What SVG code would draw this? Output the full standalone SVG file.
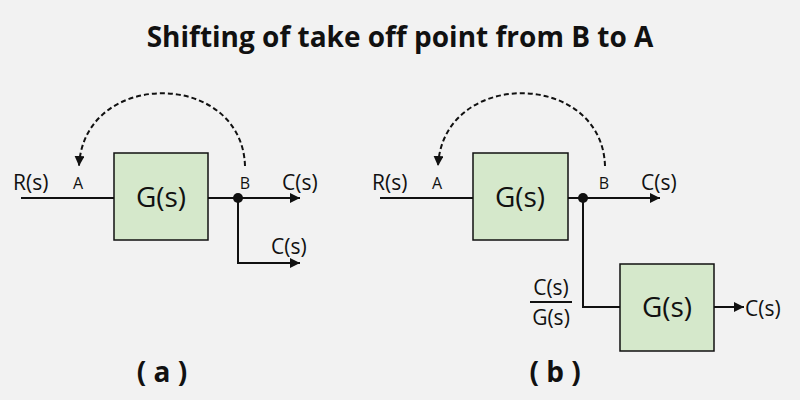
<svg xmlns="http://www.w3.org/2000/svg" width="800" height="400" viewBox="0 0 800 400">
<defs>
<style>
.t{font-family:"Open Sans","Noto Sans","Liberation Sans",sans-serif;fill:#111}
.lbl{font-size:21px}
.sm{font-size:16px;text-anchor:middle}
.g{font-size:28px;text-anchor:middle}
.ttl{font-size:28px;font-weight:bold;text-anchor:middle}
.cap{font-size:28px;font-weight:bold;text-anchor:middle}
.box{fill:#d5e8cb;stroke:#111;stroke-width:1.5}
.ln{fill:none;stroke:#111;stroke-width:2}
.dash{fill:none;stroke:#111;stroke-width:2;stroke-dasharray:5 3}
</style>
<marker id="ah" viewBox="0 0 10 10" refX="10" refY="5" markerWidth="10" markerHeight="10" markerUnits="userSpaceOnUse" orient="auto">
<path d="M0,0 L10,5 L0,10 z" fill="#111"/>
</marker>
</defs>
<rect width="800" height="400" fill="#f2f2f2"/>
<text class="t ttl" x="400" y="47">Shifting of take off point from B to A</text>

<g id="connectors">
<path class="ln" d="M21,198 H114"/>
<path class="ln" d="M208,198 H300" marker-end="url(#ah)"/>
<path class="ln" d="M238,198 V263 H300" marker-end="url(#ah)"/>
<path class="dash" d="M245,166 C242,70 84,68 79,166" marker-end="url(#ah)"/>
<path class="ln" d="M380,198 H473"/>
<path class="ln" d="M568,198 H660" marker-end="url(#ah)"/>
<path class="ln" d="M583,198 V307 H620"/>
<path class="ln" d="M714,307 H744" marker-end="url(#ah)"/>
<path class="dash" d="M605,166 C602,70 443,68 438,166" marker-end="url(#ah)"/>
<path class="ln" d="M530,302 H572" stroke-width="1.5"/>
</g>

<g id="dotB1"><circle cx="238" cy="198" r="5" fill="#111"/></g>
<g id="dotB2"><circle cx="583" cy="198" r="5" fill="#111"/></g>

<g id="G1">
<rect class="box" x="114" y="153" width="94" height="87"/>
<text class="t g" x="161" y="207">G(s)</text>
</g>
<g id="G2">
<rect class="box" x="473" y="153" width="95" height="87"/>
<text class="t g" x="520" y="207">G(s)</text>
</g>
<g id="G3">
<rect class="box" x="620" y="264" width="94" height="87"/>
<text class="t g" x="667" y="317">G(s)</text>
</g>

<g id="labels">
<text class="t lbl" x="13" y="190">R(s)</text>
<text class="t sm" x="78" y="189">A</text>
<text class="t sm" x="245" y="189">B</text>
<text class="t lbl" x="282" y="190">C(s)</text>
<text class="t lbl" x="271" y="254">C(s)</text>
<text class="t lbl" x="372" y="190">R(s)</text>
<text class="t sm" x="437" y="189">A</text>
<text class="t sm" x="604" y="189">B</text>
<text class="t lbl" x="641" y="190">C(s)</text>
<text class="t lbl" x="745" y="316">C(s)</text>
<text class="t lbl" x="551" y="295" text-anchor="middle">C(s)</text>
<text class="t lbl" x="551" y="325" text-anchor="middle">G(s)</text>
<text class="t cap" x="162" y="382">( a )</text>
<text class="t cap" x="555" y="382">( b )</text>
</g>
</svg>
